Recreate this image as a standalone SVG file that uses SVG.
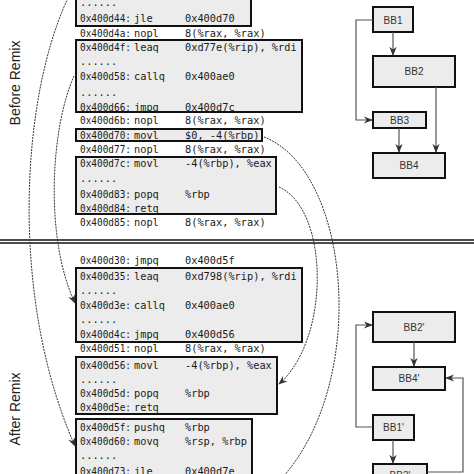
<svg xmlns="http://www.w3.org/2000/svg" width="474" height="474" viewBox="0 0 474 474">
<defs>
<style>
.bg{fill:#ffffff}
.blk{fill:#ececec;stroke:#111;stroke-width:2}
.cfg{fill:#ececec;stroke:#111;stroke-width:2}
.c{font-family:"DejaVu Sans Mono","Liberation Mono",monospace;font-size:10.3px;fill:#1a1a1a}
.lbl{font-family:"Liberation Sans",Arial,sans-serif;font-size:10px;fill:#333;text-anchor:middle}
.side{font-family:"Liberation Sans",Arial,sans-serif;font-size:14px;fill:#222;text-anchor:middle}
.dash{fill:none;stroke:#333;stroke-width:1;stroke-dasharray:2 1}
.edge{fill:none;stroke:#555;stroke-width:1.2}
.sep{stroke:#111;stroke-width:1.5}
</style>
<marker id="ah" viewBox="0 0 10 10" refX="9" refY="5" markerWidth="9" markerHeight="9" markerUnits="userSpaceOnUse" orient="auto">
<path d="M0,1 L10,5 L0,9 L3,5 z" fill="#333"/>
</marker>
<marker id="ag" viewBox="0 0 10 10" refX="9" refY="5" markerWidth="9" markerHeight="9" markerUnits="userSpaceOnUse" orient="auto">
<path d="M0,1 L10,5 L0,9 L3,5 z" fill="#333"/>
</marker>
</defs>
<rect class="bg" x="0" y="0" width="474" height="474"/>

<!-- Before Remix blocks -->
<g id="blockA">
<rect class="blk" x="76" y="-10" width="175" height="36"/>
<text class="c" x="80" y="6">......</text>
<text class="c" x="80" y="21.5" textLength="51" lengthAdjust="spacingAndGlyphs">0x400d44:</text><text class="c" x="134" y="21.5">jle</text><text class="c" x="185" y="21.5">0x400d70</text>
</g>
<text class="c" x="80" y="37" textLength="51" lengthAdjust="spacingAndGlyphs">0x400d4a:</text><text class="c" x="134" y="37">nopl</text><text class="c" x="185" y="37">8(%rax, %rax)</text>
<g id="blockB">
<rect class="blk" x="76" y="40" width="226" height="72"/>
<text class="c" x="80" y="51" textLength="51" lengthAdjust="spacingAndGlyphs">0x400d4f:</text><text class="c" x="134" y="51">leaq</text><text class="c" x="185" y="51">0xd77e(%rip), %rdi</text>
<text class="c" x="80" y="64.5">......</text>
<text class="c" x="80" y="80" textLength="51" lengthAdjust="spacingAndGlyphs">0x400d58:</text><text class="c" x="134" y="80">callq</text><text class="c" x="185" y="80">0x400ae0</text>
<text class="c" x="80" y="96">......</text>
<text class="c" x="80" y="110.5" textLength="51" lengthAdjust="spacingAndGlyphs">0x400d66:</text><text class="c" x="134" y="110.5">jmpq</text><text class="c" x="185" y="110.5">0x400d7c</text>
</g>
<text class="c" x="80" y="124" textLength="51" lengthAdjust="spacingAndGlyphs">0x400d6b:</text><text class="c" x="134" y="124">nopl</text><text class="c" x="185" y="124">8(%rax, %rax)</text>
<g id="blockC">
<rect class="blk" x="76" y="129" width="186" height="12"/>
<text class="c" x="80" y="138.5" textLength="51" lengthAdjust="spacingAndGlyphs">0x400d70:</text><text class="c" x="134" y="138.5">movl</text><text class="c" x="185" y="138.5">$0, -4(%rbp)</text>
</g>
<text class="c" x="80" y="152.5" textLength="51" lengthAdjust="spacingAndGlyphs">0x400d77:</text><text class="c" x="134" y="152.5">nopl</text><text class="c" x="185" y="152.5">8(%rax, %rax)</text>
<g id="blockD">
<rect class="blk" x="76" y="157" width="200" height="57"/>
<text class="c" x="80" y="167" textLength="51" lengthAdjust="spacingAndGlyphs">0x400d7c:</text><text class="c" x="134" y="167">movl</text><text class="c" x="185" y="167">-4(%rbp), %eax</text>
<text class="c" x="80" y="182">......</text>
<text class="c" x="80" y="198" textLength="51" lengthAdjust="spacingAndGlyphs">0x400d83:</text><text class="c" x="134" y="198">popq</text><text class="c" x="185" y="198">%rbp</text>
<text class="c" x="80" y="211.5" textLength="51" lengthAdjust="spacingAndGlyphs">0x400d84:</text><text class="c" x="134" y="211.5">retq</text>
</g>
<text class="c" x="80" y="226" textLength="51" lengthAdjust="spacingAndGlyphs">0x400d85:</text><text class="c" x="134" y="226">nopl</text><text class="c" x="185" y="226">8(%rax, %rax)</text>

<text class="side" transform="translate(20,83) rotate(-90)">Before Remix</text>

<!-- separator -->
<line class="sep" x1="0" y1="240" x2="474" y2="240"/>
<line class="sep" x1="0" y1="243" x2="474" y2="243"/>

<!-- After Remix blocks -->
<text class="c" x="80" y="264" textLength="51" lengthAdjust="spacingAndGlyphs">0x400d30:</text><text class="c" x="134" y="264">jmpq</text><text class="c" x="185" y="264">0x400d5f</text>
<g id="blockE">
<rect class="blk" x="76" y="268" width="226" height="74"/>
<text class="c" x="80" y="279.5" textLength="51" lengthAdjust="spacingAndGlyphs">0x400d35:</text><text class="c" x="134" y="279.5">leaq</text><text class="c" x="185" y="279.5">0xd798(%rip), %rdi</text>
<text class="c" x="80" y="294">......</text>
<text class="c" x="80" y="309" textLength="51" lengthAdjust="spacingAndGlyphs">0x400d3e:</text><text class="c" x="134" y="309">callq</text><text class="c" x="185" y="309">0x400ae0</text>
<text class="c" x="80" y="323">......</text>
<text class="c" x="80" y="338" textLength="51" lengthAdjust="spacingAndGlyphs">0x400d4c:</text><text class="c" x="134" y="338">jmpq</text><text class="c" x="185" y="338">0x400d56</text>
</g>
<text class="c" x="80" y="352" textLength="51" lengthAdjust="spacingAndGlyphs">0x400d51:</text><text class="c" x="134" y="352">nopl</text><text class="c" x="185" y="352">8(%rax, %rax)</text>
<g id="blockF">
<rect class="blk" x="76" y="357" width="201" height="57"/>
<text class="c" x="80" y="369" textLength="51" lengthAdjust="spacingAndGlyphs">0x400d56:</text><text class="c" x="134" y="369">movl</text><text class="c" x="185" y="369">-4(%rbp), %eax</text>
<text class="c" x="80" y="383">......</text>
<text class="c" x="80" y="397" textLength="51" lengthAdjust="spacingAndGlyphs">0x400d5d:</text><text class="c" x="134" y="397">popq</text><text class="c" x="185" y="397">%rbp</text>
<text class="c" x="80" y="410.5" textLength="51" lengthAdjust="spacingAndGlyphs">0x400d5e:</text><text class="c" x="134" y="410.5">retq</text>
</g>
<g id="blockG">
<rect class="blk" x="76" y="419" width="176" height="70"/>
<text class="c" x="80" y="431" textLength="51" lengthAdjust="spacingAndGlyphs">0x400d5f:</text><text class="c" x="134" y="431">pushq</text><text class="c" x="185" y="431">%rbp</text>
<text class="c" x="80" y="444.5" textLength="51" lengthAdjust="spacingAndGlyphs">0x400d60:</text><text class="c" x="134" y="444.5">movq</text><text class="c" x="185" y="444.5">%rsp, %rbp</text>
<text class="c" x="80" y="459">......</text>
<text class="c" x="80" y="474.5" textLength="51" lengthAdjust="spacingAndGlyphs">0x400d73:</text><text class="c" x="134" y="474.5">jle</text><text class="c" x="185" y="474.5">0x400d7e</text>
</g>

<text class="side" transform="translate(20,409) rotate(-90)">After Remix</text>

<!-- CFG nodes -->
<g id="BB1"><rect class="cfg" x="373" y="7" width="40" height="25"/><text class="lbl" x="393" y="23.5">BB1</text></g>
<g id="BB2"><rect class="cfg" x="373" y="56" width="82" height="31"/><text class="lbl" x="414" y="75">BB2</text></g>
<g id="BB3"><rect class="cfg" x="373" y="112" width="53" height="16"/><text class="lbl" x="399.5" y="123.5">BB3</text></g>
<g id="BB4"><rect class="cfg" x="373" y="153" width="72" height="25"/><text class="lbl" x="409" y="169">BB4</text></g>
<g id="BB2p"><rect class="cfg" x="373" y="312" width="82" height="30"/><text class="lbl" x="414" y="331">BB2'</text></g>
<g id="BB4p"><rect class="cfg" x="373" y="367" width="72" height="23"/><text class="lbl" x="409" y="382">BB4'</text></g>
<g id="BB1p"><rect class="cfg" x="373" y="415" width="41" height="25"/><text class="lbl" x="393.5" y="431">BB1'</text></g>
<g id="BB3p"><rect class="cfg" x="373" y="464" width="54" height="22"/><text class="lbl" x="400" y="479">BB3'</text></g>

<!-- connectors -->
<g id="connectors">
<path class="edge" d="M393,32 V55" marker-end="url(#ag)"/>
<path class="edge" d="M373,20 H356 V120 H372" marker-end="url(#ag)"/>
<path class="edge" d="M399,128 V152" marker-end="url(#ag)"/>
<path class="edge" d="M436,87 V152" marker-end="url(#ag)"/>
<path class="edge" d="M414,342 V366" marker-end="url(#ag)"/>
<path class="edge" d="M373,427 H356 V325 H372" marker-end="url(#ag)"/>
<path class="edge" d="M393,440 V463" marker-end="url(#ag)"/>
<path class="edge" d="M427,472 H463 V378 H446" marker-end="url(#ag)"/>

<path class="dash" d="M68,-2 C20,100 10,300 75,446" marker-end="url(#ah)"/>
<path class="dash" d="M74,76 C50,130 45,240 75,303" marker-end="url(#ah)"/>
<path class="dash" d="M264,137 C350,170 370,380 282,478"/>
<path class="dash" d="M279,187 C330,210 330,340 279,384" marker-end="url(#ah)"/>
</g>
</svg>
